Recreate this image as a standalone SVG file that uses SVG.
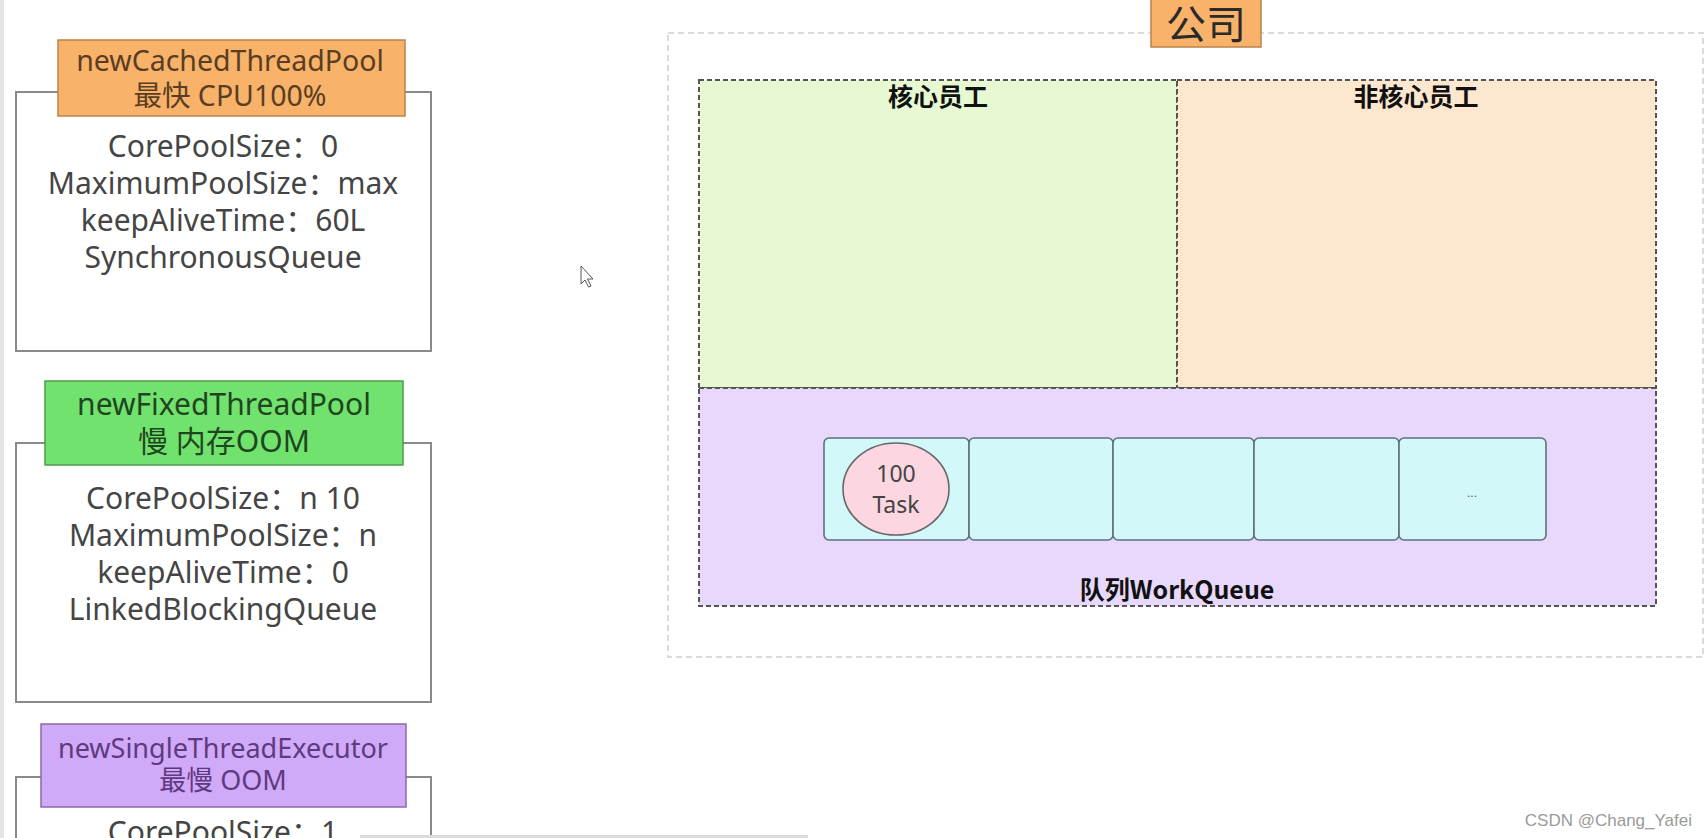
<svg xmlns="http://www.w3.org/2000/svg" width="1706" height="838" viewBox="0 0 1706 838">
<style>
.t{font-family:"Noto Sans","Noto Sans CJK SC",sans-serif;text-anchor:middle}
.body{font-size:30px;fill:#454545}
.card{fill:#fff;stroke:#8a8a8a;stroke-width:2}
.zone{stroke:#555;stroke-width:2;stroke-dasharray:5 3}
.zl{font-family:"Noto Sans CJK SC","Noto Sans",sans-serif;font-weight:bold;font-size:25px;fill:#111;text-anchor:middle}
.cell{fill:#d3f8fa;stroke:#5f6f80;stroke-width:1.6}
</style>
<rect width="1706" height="838" fill="#fff"/>
<rect x="0" y="0" width="4" height="838" fill="#e4e4e4"/>

<g id="cached-pool">
<rect class="card" x="16" y="92" width="415" height="259"/>
<rect x="58" y="40" width="347" height="76" fill="#f8b26a" stroke="#b98448" stroke-width="1.5"/>
<text class="t" x="230" y="71" font-size="28.5" fill="#5a3e22">newCachedThreadPool</text>
<text class="t" x="230" y="106" font-size="28.5" fill="#5a3e22">最快 CPU100%</text>
<text class="t body" x="223" y="157">CorePoolSize：0</text>
<text class="t body" x="223" y="194">MaximumPoolSize：max</text>
<text class="t body" x="223" y="231">keepAliveTime：60L</text>
<text class="t body" x="223" y="268">SynchronousQueue</text>
</g>

<g id="fixed-pool">
<rect class="card" x="16" y="443" width="415" height="259"/>
<rect x="45" y="381" width="358" height="84" fill="#72e26e" stroke="#4c9a4c" stroke-width="1.5"/>
<text class="t" x="224" y="415" font-size="30" fill="#1f461f">newFixedThreadPool</text>
<text class="t" x="224" y="452" font-size="30" fill="#1f461f">慢 内存OOM</text>
<text class="t body" x="223" y="509">CorePoolSize：n 10</text>
<text class="t body" x="223" y="546">MaximumPoolSize：n</text>
<text class="t body" x="223" y="583">keepAliveTime：0</text>
<text class="t body" x="223" y="620">LinkedBlockingQueue</text>
</g>

<g id="single-executor">
<rect class="card" x="16" y="777" width="415" height="80"/>
<rect x="41" y="724" width="365" height="83" fill="#d0a9f8" stroke="#8a6aa8" stroke-width="1.5"/>
<text class="t" x="223" y="758" font-size="27" fill="#5e3a80">newSingleThreadExecutor</text>
<text class="t" x="223" y="790" font-size="27" fill="#5e3a80">最慢 OOM</text>
<text class="t body" x="223" y="843">CorePoolSize：1</text>
</g>

<g id="company">
<rect x="668" y="33" width="1035" height="624" fill="none" stroke="#cfcfcf" stroke-width="1.5" stroke-dasharray="6 4"/>
<rect x="1151" y="-2" width="110" height="49" fill="#f8b26a" stroke="#b98448" stroke-width="1.5"/>
<text x="1206" y="39" font-family="Noto Sans CJK SC,sans-serif" font-size="40" fill="#2a2a2a" text-anchor="middle">公司</text>
</g>

<g id="core-staff">
<rect class="zone" x="699" y="80" width="478" height="308" fill="#e6f9d2"/>
<text class="zl" x="938" y="106">核心员工</text>
</g>

<g id="non-core-staff">
<rect class="zone" x="1177" y="80" width="479" height="308" fill="#fde7cf"/>
<text class="zl" x="1416" y="106">非核心员工</text>
</g>

<g id="work-queue">
<rect class="zone" x="699" y="388" width="957" height="218" fill="#e8d8fb"/>
<text class="zl" x="1177" y="599" font-size="27">队列WorkQueue</text>
<rect class="cell" x="824" y="438" width="145" height="102" rx="5"/>
<rect class="cell" x="969" y="438" width="144" height="102" rx="5"/>
<rect class="cell" x="1113" y="438" width="141" height="102" rx="5"/>
<rect class="cell" x="1254" y="438" width="145" height="102" rx="5"/>
<rect class="cell" x="1399" y="438" width="147" height="102" rx="5"/>
<text x="1472" y="497" font-family="Liberation Sans,sans-serif" font-size="12" fill="#555" text-anchor="middle">...</text>
</g>

<g id="task">
<ellipse cx="896" cy="489" rx="53" ry="46" fill="#fcd6e1" stroke="#666" stroke-width="1.6"/>
<text class="t" x="896" y="482" font-size="23" fill="#444">100</text>
<text class="t" x="896" y="513" font-size="23" fill="#444">Task</text>
</g>

<g id="connectors"/>

<path d="M581 266 L581 284 L585 280 L588.5 287 L591 286 L587.5 279 L593 279 Z" fill="#fff" stroke="#555" stroke-width="1"/>
<rect x="360" y="835" width="448" height="3" fill="#dcdcdc"/>
<text x="1692" y="826" font-family="Liberation Sans,sans-serif" font-size="17" fill="#9a9a9a" text-anchor="end">CSDN @Chang_Yafei</text>
</svg>
